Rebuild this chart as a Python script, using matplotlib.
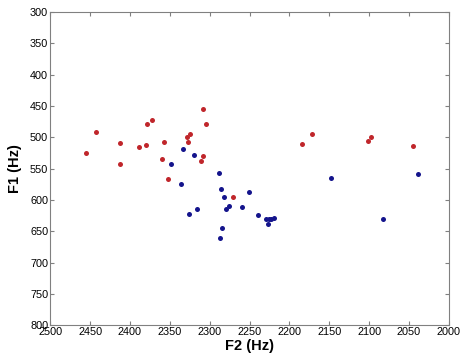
import matplotlib
matplotlib.use('Agg')
import matplotlib.pyplot as plt

# red group (F2, F1)
red_f2 = [2309, 2372, 2379, 2305, 2443, 2325, 2328, 2412, 2357, 2327, 2380, 2389,
          2455, 2309, 2311, 2360, 2412, 2352, 2271, 2172, 2184, 2098, 2101, 2045]
red_f1 = [455, 472, 479, 479, 491, 494, 500, 509, 507, 507, 512, 515,
          525, 530, 537, 534, 542, 567, 595, 495, 511, 500, 505, 514]

# blue group (F2, F1)
blue_f2 = [2333, 2320, 2348, 2288, 2336, 2286, 2251, 2282, 2276, 2280, 2259, 2316,
           2326, 2240, 2285, 2287, 2148, 2039, 2083, 2229, 2226, 2223, 2219, 2227]
blue_f1 = [518, 528, 542, 557, 575, 582, 587, 595, 610, 615, 611, 615,
           622, 624, 645, 660, 565, 558, 631, 631, 631, 630, 629, 638]

plt.rcParams['font.family'] = ['Liberation Sans', 'DejaVu Sans']

fig = plt.figure(figsize=(4.74, 3.57), dpi=100)
ax = fig.add_axes([0.106, 0.089, 0.841, 0.877])

ax.plot(red_f2, red_f1, 'o', color='#c0262b', ms=3.6, mec='none')
ax.plot(blue_f2, blue_f1, 'o', color='#14148c', ms=3.6, mec='none')

ax.set_xlim(2500, 2000)
ax.set_ylim(800, 300)
ax.set_xticks(range(2500, 1999, -50))
ax.set_yticks(range(300, 801, 50))

for s in ax.spines.values():
    s.set_color('#808080')
ax.tick_params(direction='in', length=3, color='#808080', labelsize=7.8,
               top=True, right=True, pad=1.5)

ax.set_xlabel('F2 (Hz)', fontsize=10.5, fontweight='bold', labelpad=1)
ax.set_ylabel('F1 (Hz)', fontsize=10.5, fontweight='bold', labelpad=6)

fig.savefig('out.png', dpi=100)
